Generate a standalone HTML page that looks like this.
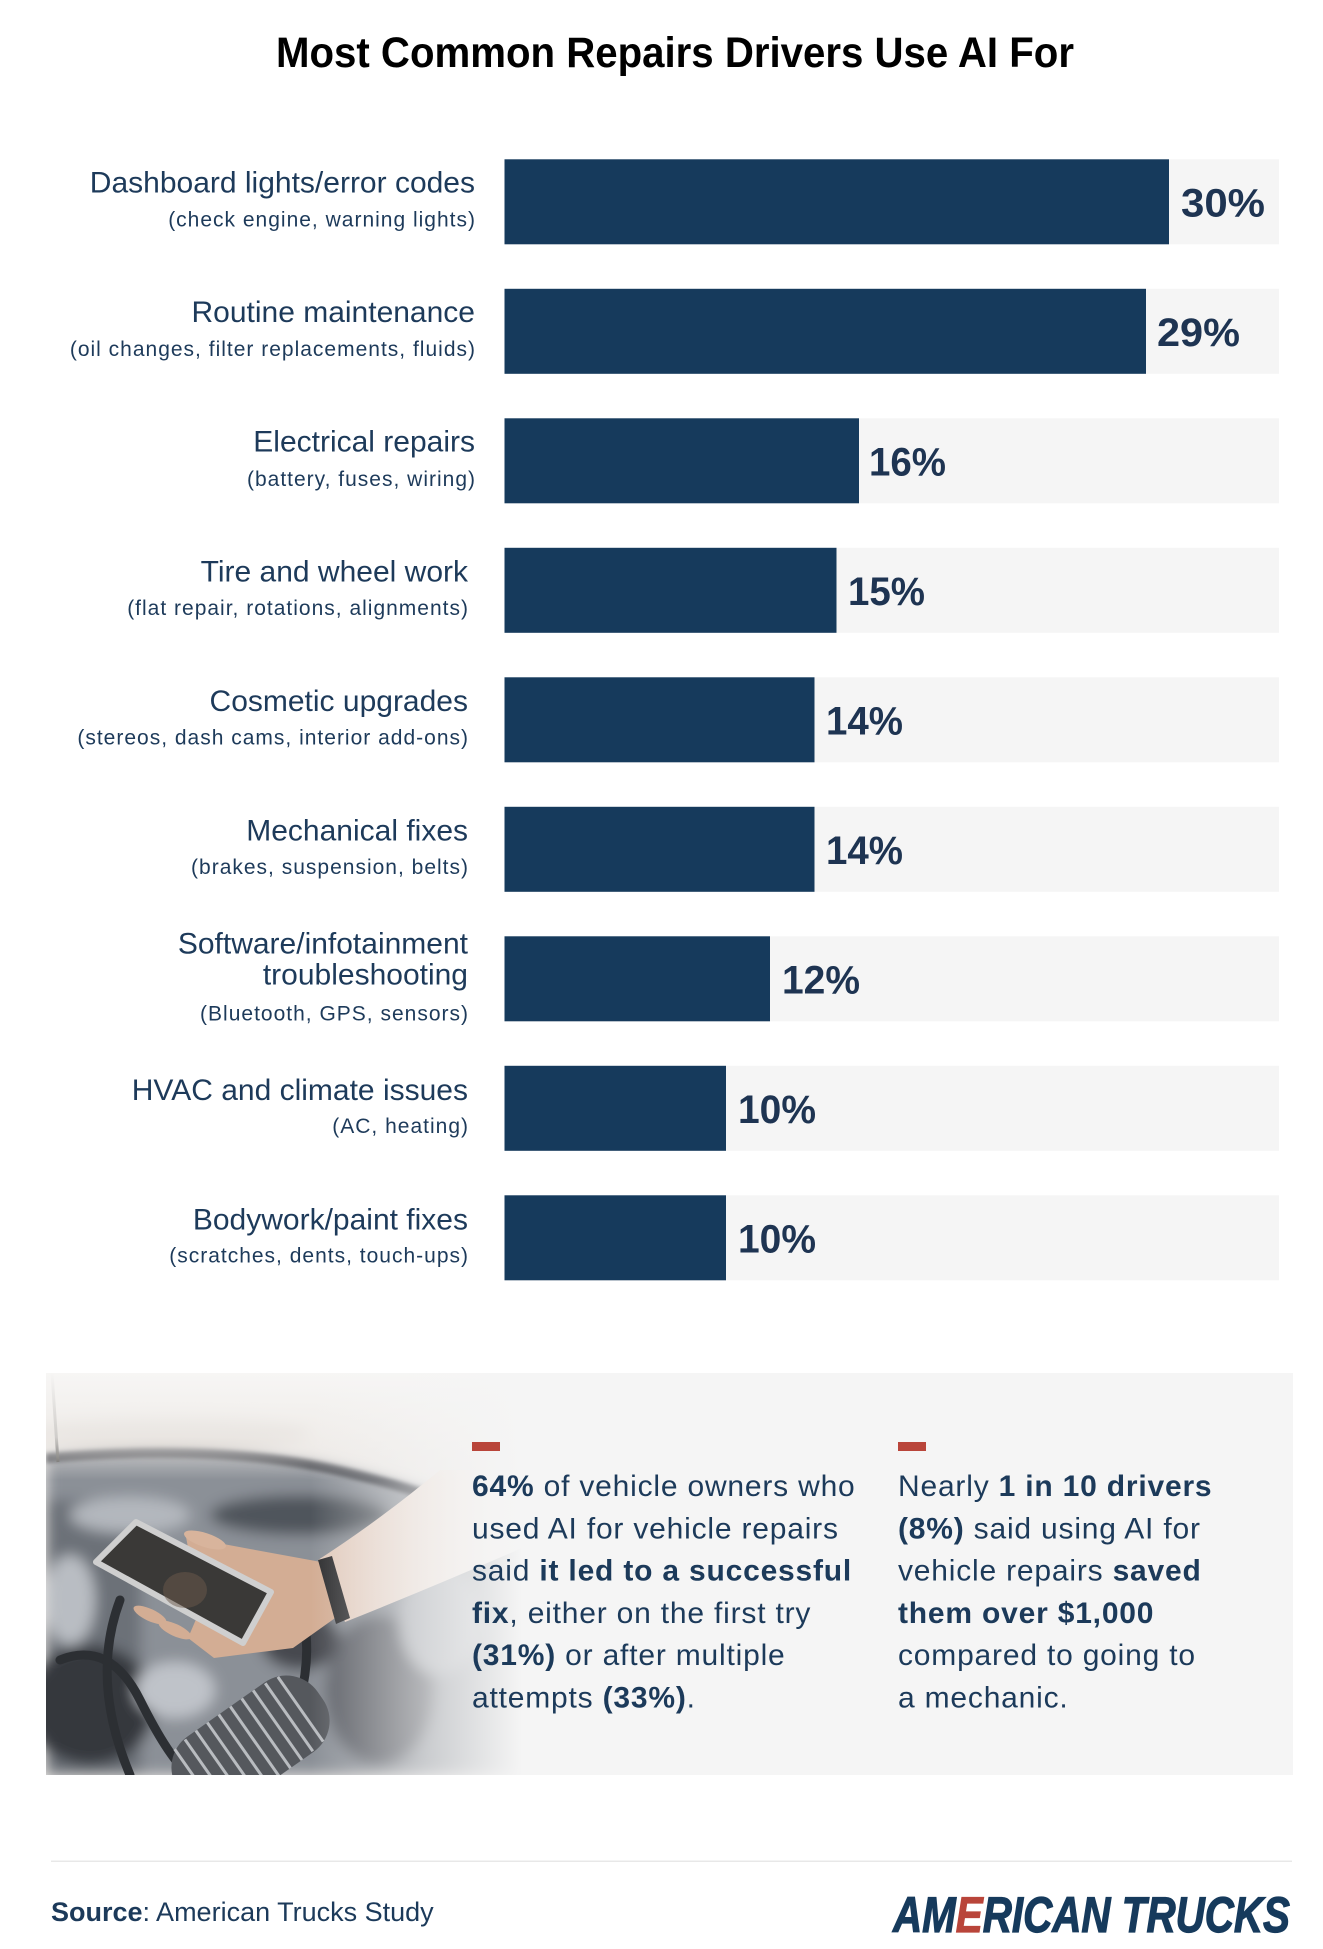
<!DOCTYPE html>
<html>
<head>
<meta charset="utf-8">
<style>
html,body{margin:0;padding:0;background:#ffffff;}
body{width:1323px;height:1949px;overflow:hidden;}
svg{display:block;}
text{font-family:"Liberation Sans", Arial, sans-serif;}
</style>
</head>
<body>
<svg width="1323" height="1949" viewBox="0 0 1323 1949" xmlns="http://www.w3.org/2000/svg">
<defs>
  <clipPath id="pc"><rect x="46" y="1373" width="560" height="402"/></clipPath>
  <linearGradient id="fade" gradientUnits="userSpaceOnUse" x1="46" y1="0" x2="575" y2="0">
    <stop offset="0" stop-color="#f5f5f5" stop-opacity="0"/>
    <stop offset="0.5" stop-color="#f5f5f5" stop-opacity="0"/>
    <stop offset="0.72" stop-color="#f5f5f5" stop-opacity="0.6"/>
    <stop offset="0.9" stop-color="#f5f5f5" stop-opacity="1"/>
  </linearGradient>
  <linearGradient id="topfade" gradientUnits="userSpaceOnUse" x1="0" y1="1373" x2="0" y2="1480">
    <stop offset="0" stop-color="#f7f6f5" stop-opacity="1"/>
    <stop offset="0.6" stop-color="#f1eeeb" stop-opacity="0.8"/>
    <stop offset="1" stop-color="#efebe8" stop-opacity="0"/>
  </linearGradient>
  <linearGradient id="arm" gradientUnits="userSpaceOnUse" x1="330" y1="0" x2="500" y2="0">
    <stop offset="0" stop-color="#e2cbbd"/>
    <stop offset="1" stop-color="#f4efeb"/>
  </linearGradient>
  <filter id="bl" x="-20%" y="-20%" width="140%" height="140%"><feGaussianBlur stdDeviation="7"/></filter>
  <filter id="bl2" x="-20%" y="-20%" width="140%" height="140%"><feGaussianBlur stdDeviation="2"/></filter>
</defs>

<!-- Title -->
<text x="276" y="67" font-size="43" font-weight="bold" fill="#000000" textLength="798" lengthAdjust="spacingAndGlyphs">Most Common Repairs Drivers Use AI For</text>

<!-- Tracks -->
<g fill="#f5f5f5">
  <rect x="504.5" y="159.3" width="774.5" height="85"/>
  <rect x="504.5" y="288.8" width="774.5" height="85"/>
  <rect x="504.5" y="418.3" width="774.5" height="85"/>
  <rect x="504.5" y="547.8" width="774.5" height="85"/>
  <rect x="504.5" y="677.3" width="774.5" height="85"/>
  <rect x="504.5" y="806.8" width="774.5" height="85"/>
  <rect x="504.5" y="936.3" width="774.5" height="85"/>
  <rect x="504.5" y="1065.8" width="774.5" height="85"/>
  <rect x="504.5" y="1195.3" width="774.5" height="85"/>
</g>
<!-- Bars -->
<g fill="#163a5c">
  <rect x="504.5" y="159.3" width="664.5" height="85"/>
  <rect x="504.5" y="288.8" width="641.5" height="85"/>
  <rect x="504.5" y="418.3" width="354.5" height="85"/>
  <rect x="504.5" y="547.8" width="332" height="85"/>
  <rect x="504.5" y="677.3" width="310" height="85"/>
  <rect x="504.5" y="806.8" width="310" height="85"/>
  <rect x="504.5" y="936.3" width="265.5" height="85"/>
  <rect x="504.5" y="1065.8" width="221.5" height="85"/>
  <rect x="504.5" y="1195.3" width="221.5" height="85"/>
</g>
<!-- Value labels -->
<g font-size="40" font-weight="bold" fill="#1e3452">
  <text x="1181" y="216.5" textLength="84" lengthAdjust="spacingAndGlyphs">30%</text>
  <text x="1157" y="346" textLength="83" lengthAdjust="spacingAndGlyphs">29%</text>
  <text x="869" y="475.5" textLength="77" lengthAdjust="spacingAndGlyphs">16%</text>
  <text x="848" y="605" textLength="77" lengthAdjust="spacingAndGlyphs">15%</text>
  <text x="826" y="734.5" textLength="77" lengthAdjust="spacingAndGlyphs">14%</text>
  <text x="826" y="864" textLength="77" lengthAdjust="spacingAndGlyphs">14%</text>
  <text x="782" y="993.5" textLength="78" lengthAdjust="spacingAndGlyphs">12%</text>
  <text x="738" y="1123" textLength="78" lengthAdjust="spacingAndGlyphs">10%</text>
  <text x="738" y="1252.5" textLength="78" lengthAdjust="spacingAndGlyphs">10%</text>
</g>

<!-- Category labels -->
<g font-size="30" fill="#1d3a5a" text-anchor="end">
  <text x="475" y="192.5">Dashboard lights/error codes</text>
  <text x="475" y="322">Routine maintenance</text>
  <text x="475" y="451.7">Electrical repairs</text>
  <text x="468" y="581.5">Tire and wheel work</text>
  <text x="468" y="711">Cosmetic upgrades</text>
  <text x="468" y="840.5">Mechanical fixes</text>
  <text x="468" y="953.3">Software/infotainment</text>
  <text x="468" y="984.3">troubleshooting</text>
  <text x="468" y="1100">HVAC and climate issues</text>
  <text x="468" y="1229.5">Bodywork/paint fixes</text>
</g>
<g font-size="21" fill="#1d3a5a" text-anchor="end" letter-spacing="1.0">
  <text x="476" y="226.3">(check engine, warning lights)</text>
  <text x="476" y="355.8">(oil changes, filter replacements, fluids)</text>
  <text x="476" y="486">(battery, fuses, wiring)</text>
  <text x="469" y="615">(flat repair, rotations, alignments)</text>
  <text x="469" y="744.5">(stereos, dash cams, interior add-ons)</text>
  <text x="469" y="874">(brakes, suspension, belts)</text>
  <text x="469" y="1020.5">(Bluetooth, GPS, sensors)</text>
  <text x="469" y="1133">(AC, heating)</text>
  <text x="469" y="1262.5">(scratches, dents, touch-ups)</text>
</g>

<!-- Panel -->
<rect x="46" y="1373" width="1247" height="402" fill="#f5f5f5"/>

<!-- Photo approximation -->
<g clip-path="url(#pc)">
  <rect x="46" y="1373" width="560" height="402" fill="#ece9e6"/>
  <g filter="url(#bl)">
    <ellipse cx="170" cy="1432" rx="140" ry="16" fill="#cbc4bd"/>
    <path d="M46 1455 Q 220 1440 340 1468 T 540 1540 L 540 1775 L 46 1775 Z" fill="#8b9097"/>
    <rect x="46" y="1500" width="95" height="275" fill="#6c7178"/>
    <ellipse cx="300" cy="1515" rx="90" ry="20" fill="#50555c"/>
    <ellipse cx="130" cy="1515" rx="60" ry="18" fill="#b3b7bd"/>
    <ellipse cx="90" cy="1705" rx="65" ry="60" fill="#35383d"/>
    <ellipse cx="380" cy="1690" rx="55" ry="75" fill="#5b5f66"/>
    <ellipse cx="440" cy="1620" rx="40" ry="55" fill="#a7abb1"/>
    <ellipse cx="175" cy="1690" rx="40" ry="28" fill="#bfc3c9"/>
    <ellipse cx="70" cy="1600" rx="25" ry="45" fill="#b9bdc3"/>
    <ellipse cx="300" cy="1640" rx="40" ry="30" fill="#464a50"/>
  </g>
  <path d="M46 1458 Q 220 1443 340 1471 T 540 1543" stroke="#3c4047" stroke-width="10" fill="none" filter="url(#bl2)"/>
  <line x1="52" y1="1373" x2="58" y2="1462" stroke="#4a4a48" stroke-width="3"/>
  <!-- cables -->
  <g stroke="#2c2f33" stroke-width="9" fill="none" stroke-linecap="round">
    <path d="M60 1660 Q 110 1640 140 1700 T 190 1775"/>
    <path d="M120 1600 Q 90 1680 130 1775"/>
    <path d="M280 1560 Q 320 1620 300 1700"/>
  </g>
  <!-- corrugated hose -->
  <g transform="rotate(-35 245 1745)">
    <rect x="165" y="1705" width="170" height="85" rx="38" fill="#55585d"/>
    <g stroke="#b9bcc0" stroke-width="3">
      <line x1="185" y1="1708" x2="185" y2="1787"/>
      <line x1="199" y1="1706" x2="199" y2="1789"/>
      <line x1="213" y1="1705" x2="213" y2="1790"/>
      <line x1="227" y1="1705" x2="227" y2="1790"/>
      <line x1="241" y1="1705" x2="241" y2="1790"/>
      <line x1="255" y1="1705" x2="255" y2="1790"/>
      <line x1="269" y1="1705" x2="269" y2="1790"/>
      <line x1="283" y1="1705" x2="283" y2="1790"/>
      <line x1="297" y1="1706" x2="297" y2="1789"/>
      <line x1="311" y1="1708" x2="311" y2="1787"/>
    </g>
  </g>
  <!-- arm -->
  <path d="M318 1560 Q 380 1520 440 1470 L 520 1470 L 540 1540 Q 450 1580 345 1622 Z" fill="url(#arm)"/>
  <!-- hand -->
  <path d="M186 1537 L 250 1549 L 321 1562 L 338 1616 L 293 1648 L 214 1658 L 188 1638 L 200 1610 Z" fill="#d3ad94"/>
  <!-- watch -->
  <path d="M318 1560 L 332 1556 L 350 1618 L 336 1624 Z" fill="#2e2e30"/>
  <!-- phone -->
  <polygon points="136,1522 271,1592 243,1643 96,1562" fill="#3a3937" stroke="#cfcfcf" stroke-width="6" stroke-linejoin="round"/>
  <ellipse cx="185" cy="1590" rx="22" ry="18" fill="#6b5a4c" opacity="0.5"/>
  <!-- thumb / fingers -->
  <ellipse cx="205" cy="1540" rx="22" ry="7" transform="rotate(18 205 1540)" fill="#d8b49c"/>
  <ellipse cx="150" cy="1615" rx="18" ry="6" transform="rotate(25 150 1615)" fill="#d3ad94"/>
  <ellipse cx="175" cy="1630" rx="18" ry="6" transform="rotate(25 175 1630)" fill="#d3ad94"/>
  <!-- fades -->
  <rect x="46" y="1373" width="560" height="110" fill="url(#topfade)"/>
  <rect x="46" y="1373" width="560" height="402" fill="url(#fade)"/>
</g>

<!-- Red dashes -->
<rect x="472" y="1442" width="28" height="9" fill="#b9453a"/>
<rect x="898" y="1442" width="28" height="9" fill="#b9453a"/>

<!-- Panel text -->
<g font-size="30" fill="#1c3a5a" letter-spacing="0.8">
  <text x="472" y="1496"><tspan font-weight="bold">64%</tspan> of vehicle owners who</text>
  <text x="472" y="1538.3">used AI for vehicle repairs</text>
  <text x="472" y="1580.5">said <tspan font-weight="bold">it led to a successful</tspan></text>
  <text x="472" y="1622.8"><tspan font-weight="bold">fix</tspan>, either on the first try</text>
  <text x="472" y="1665"><tspan font-weight="bold">(31%)</tspan> or after multiple</text>
  <text x="472" y="1707.3">attempts <tspan font-weight="bold">(33%)</tspan>.</text>

  <text x="898" y="1496">Nearly <tspan font-weight="bold">1 in 10 drivers</tspan></text>
  <text x="898" y="1538.3"><tspan font-weight="bold">(8%)</tspan> said using AI for</text>
  <text x="898" y="1580.5">vehicle repairs <tspan font-weight="bold">saved</tspan></text>
  <text x="898" y="1622.8"><tspan font-weight="bold">them over $1,000</tspan></text>
  <text x="898" y="1665">compared to going to</text>
  <text x="898" y="1707.3">a mechanic.</text>
</g>

<!-- Footer -->
<rect x="51" y="1860.5" width="1241" height="1.5" fill="#e8e8e8"/>
<text x="51" y="1921" font-size="27" fill="#1c3a5a"><tspan font-weight="bold">Source</tspan>: American Trucks Study</text>
<text x="893" y="1932" font-size="50" font-weight="bold" font-style="italic" fill="#163a5c" stroke="#163a5c" stroke-width="1.2" textLength="397" lengthAdjust="spacingAndGlyphs">AM<tspan fill="#b9453a" stroke="#b9453a">E</tspan>RICAN TRUCKS</text>
</svg>
</body>
</html>
